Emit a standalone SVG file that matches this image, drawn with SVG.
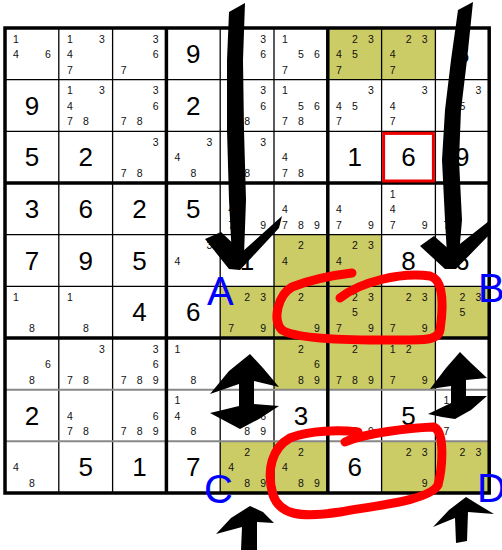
<svg xmlns="http://www.w3.org/2000/svg" width="502" height="550" viewBox="0 0 502 550">
<style>
.c{font-family:"Liberation Sans",Arial,sans-serif;font-size:10.5px;fill:#111;text-anchor:middle}
.g{font-family:"Liberation Sans",Arial,sans-serif;font-size:26px;fill:#000;text-anchor:middle}
.sh{fill:#cccc66}
.thin{stroke:#000;stroke-width:1.3}
.gray{stroke:#888;stroke-width:2}
.thick{stroke:#000;stroke-width:3.5}
.loop{fill:none;stroke:#ff0000;stroke-width:9;stroke-linecap:round;stroke-linejoin:round}
.arr{fill:#000}
.lab{font-family:"Liberation Sans",Arial,sans-serif;font-size:40px;fill:#0000ff}
</style>
<rect width="502" height="550" fill="#fff"/>
<g id="shading">
<rect class="sh" x="327.8" y="28" width="53.8" height="51.7"/>
<rect class="sh" x="381.6" y="28" width="53.8" height="51.7"/>
<rect class="sh" x="274" y="234.7" width="53.8" height="51.6"/>
<rect class="sh" x="327.8" y="234.7" width="53.8" height="51.6"/>
<rect class="sh" x="220.2" y="286.3" width="269" height="51.7"/>
<rect class="sh" x="274" y="338" width="161.4" height="51.7"/>
<rect class="sh" x="220.2" y="441.3" width="107.6" height="51.7"/>
<rect class="sh" x="381.6" y="441.3" width="107.6" height="51.7"/>
</g>
<g id="grid">
<line class="thin" x1="58.8" y1="28" x2="58.8" y2="493"/>
<line class="thin" x1="112.6" y1="28" x2="112.6" y2="493"/>
<line class="thin" x1="220.2" y1="28" x2="220.2" y2="493"/>
<line class="thin" x1="274" y1="28" x2="274" y2="493"/>
<line class="thin" x1="381.6" y1="28" x2="381.6" y2="493"/>
<line class="thin" x1="435.4" y1="28" x2="435.4" y2="493"/>
<line class="thin" x1="5" y1="79.7" x2="489.2" y2="79.7"/>
<line class="thin" x1="5" y1="131.3" x2="489.2" y2="131.3"/>
<line class="thin" x1="5" y1="234.7" x2="489.2" y2="234.7"/>
<line class="thin" x1="5" y1="286.3" x2="489.2" y2="286.3"/>
<line class="gray" x1="5" y1="389.7" x2="489.2" y2="389.7"/>
<line class="gray" x1="5" y1="441.3" x2="489.2" y2="441.3"/>
<line class="thick" x1="166.4" y1="28" x2="166.4" y2="493"/>
<line class="thick" x1="327.8" y1="28" x2="327.8" y2="493"/>
<line class="thick" x1="5" y1="183" x2="489.2" y2="183"/>
<line class="thick" x1="5" y1="338" x2="489.2" y2="338"/>
<rect x="5" y="28" width="484.2" height="465" fill="none" stroke="#000" stroke-width="3.5"/>
<rect x="383.6" y="133.4" width="49.8" height="47.6" fill="none" stroke="#e00" stroke-width="3"/>
</g>
<g id="r0">
<g id="r0c0"><text class="c" x="16" y="42.5">1</text><text class="c" x="16" y="58">4</text><text class="c" x="48" y="58">6</text></g>
<g id="r0c1"><text class="c" x="69.8" y="42.5">1</text><text class="c" x="101.8" y="42.5">3</text><text class="c" x="69.8" y="58">4</text><text class="c" x="69.8" y="73.5">7</text></g>
<g id="r0c2"><text class="c" x="155.6" y="42.5">3</text><text class="c" x="155.6" y="58">6</text><text class="c" x="123.6" y="73.5">7</text></g>
<g id="r0c3"><text class="g" x="193.3" y="63">9</text></g>
<g id="r0c4"><text class="c" x="263.2" y="42.5">3</text><text class="c" x="263.2" y="58">6</text><text class="c" x="231.2" y="73.5">7</text></g>
<g id="r0c5"><text class="c" x="285" y="42.5">1</text><text class="c" x="301" y="58">5</text><text class="c" x="317" y="58">6</text><text class="c" x="285" y="73.5">7</text></g>
<g id="r0c6"><text class="c" x="354.8" y="42.5">2</text><text class="c" x="370.8" y="42.5">3</text><text class="c" x="338.8" y="58">4</text><text class="c" x="354.8" y="58">5</text><text class="c" x="338.8" y="73.5">7</text></g>
<g id="r0c7"><text class="c" x="408.6" y="42.5">2</text><text class="c" x="424.6" y="42.5">3</text><text class="c" x="392.6" y="58">4</text><text class="c" x="392.6" y="73.5">7</text></g>
<g id="r0c8"><text class="g" x="462.3" y="63">8</text></g>
</g>
<g id="r1">
<g id="r1c0"><text class="g" x="31.9" y="114.7">9</text></g>
<g id="r1c1"><text class="c" x="69.8" y="94.2">1</text><text class="c" x="101.8" y="94.2">3</text><text class="c" x="69.8" y="109.7">4</text><text class="c" x="69.8" y="125.2">7</text><text class="c" x="85.8" y="125.2">8</text></g>
<g id="r1c2"><text class="c" x="155.6" y="94.2">3</text><text class="c" x="155.6" y="109.7">6</text><text class="c" x="123.6" y="125.2">7</text><text class="c" x="139.6" y="125.2">8</text></g>
<g id="r1c3"><text class="g" x="193.3" y="114.7">2</text></g>
<g id="r1c4"><text class="c" x="263.2" y="94.2">3</text><text class="c" x="263.2" y="109.7">6</text><text class="c" x="231.2" y="125.2">7</text><text class="c" x="247.2" y="125.2">8</text></g>
<g id="r1c5"><text class="c" x="285" y="94.2">1</text><text class="c" x="301" y="109.7">5</text><text class="c" x="317" y="109.7">6</text><text class="c" x="285" y="125.2">7</text><text class="c" x="301" y="125.2">8</text></g>
<g id="r1c6"><text class="c" x="370.8" y="94.2">3</text><text class="c" x="338.8" y="109.7">4</text><text class="c" x="354.8" y="109.7">5</text><text class="c" x="338.8" y="125.2">7</text></g>
<g id="r1c7"><text class="c" x="424.6" y="94.2">3</text><text class="c" x="392.6" y="109.7">4</text><text class="c" x="392.6" y="125.2">7</text></g>
<g id="r1c8"><text class="c" x="478.4" y="94.2">3</text><text class="c" x="462.4" y="109.7">5</text></g>
</g>
<g id="r2">
<g id="r2c0"><text class="g" x="31.9" y="166.3">5</text></g>
<g id="r2c1"><text class="g" x="85.7" y="166.3">2</text></g>
<g id="r2c2"><text class="c" x="155.6" y="145.8">3</text><text class="c" x="123.6" y="176.8">7</text><text class="c" x="139.6" y="176.8">8</text></g>
<g id="r2c3"><text class="c" x="209.4" y="145.8">3</text><text class="c" x="177.4" y="161.3">4</text><text class="c" x="193.4" y="176.8">8</text></g>
<g id="r2c4"><text class="c" x="263.2" y="145.8">3</text><text class="c" x="231.2" y="161.3">4</text><text class="c" x="231.2" y="176.8">7</text><text class="c" x="247.2" y="176.8">8</text></g>
<g id="r2c5"><text class="c" x="285" y="161.3">4</text><text class="c" x="285" y="176.8">7</text><text class="c" x="301" y="176.8">8</text></g>
<g id="r2c6"><text class="g" x="354.7" y="166.3">1</text></g>
<g id="r2c7"><text class="g" x="408.5" y="166.3">6</text></g>
<g id="r2c8"><text class="g" x="462.3" y="166.3">9</text></g>
</g>
<g id="r3">
<g id="r3c0"><text class="g" x="31.9" y="218">3</text></g>
<g id="r3c1"><text class="g" x="85.7" y="218">6</text></g>
<g id="r3c2"><text class="g" x="139.5" y="218">2</text></g>
<g id="r3c3"><text class="g" x="193.3" y="218">5</text></g>
<g id="r3c4"><text class="c" x="231.2" y="213">4</text><text class="c" x="231.2" y="228.5">7</text><text class="c" x="263.2" y="228.5">9</text></g>
<g id="r3c5"><text class="c" x="285" y="213">4</text><text class="c" x="285" y="228.5">7</text><text class="c" x="301" y="228.5">8</text><text class="c" x="317" y="228.5">9</text></g>
<g id="r3c6"><text class="c" x="338.8" y="213">4</text><text class="c" x="338.8" y="228.5">7</text><text class="c" x="370.8" y="228.5">9</text></g>
<g id="r3c7"><text class="c" x="392.6" y="197.5">1</text><text class="c" x="392.6" y="213">4</text><text class="c" x="392.6" y="228.5">7</text><text class="c" x="424.6" y="228.5">9</text></g>
<g id="r3c8"><text class="c" x="446.4" y="197.5">1</text><text class="c" x="446.4" y="228.5">7</text></g>
</g>
<g id="r4">
<g id="r4c0"><text class="g" x="31.9" y="269.7">7</text></g>
<g id="r4c1"><text class="g" x="85.7" y="269.7">9</text></g>
<g id="r4c2"><text class="g" x="139.5" y="269.7">5</text></g>
<g id="r4c3"><text class="c" x="209.4" y="249.2">3</text><text class="c" x="177.4" y="264.7">4</text></g>
<g id="r4c4"><text class="g" x="247.1" y="269.7">1</text></g>
<g id="r4c5"><text class="c" x="301" y="249.2">2</text><text class="c" x="285" y="264.7">4</text></g>
<g id="r4c6"><text class="c" x="354.8" y="249.2">2</text><text class="c" x="370.8" y="249.2">3</text><text class="c" x="338.8" y="264.7">4</text></g>
<g id="r4c7"><text class="g" x="408.5" y="269.7">8</text></g>
<g id="r4c8"><text class="g" x="462.3" y="269.7">6</text></g>
</g>
<g id="r5">
<g id="r5c0"><text class="c" x="16" y="300.8">1</text><text class="c" x="32" y="331.8">8</text></g>
<g id="r5c1"><text class="c" x="69.8" y="300.8">1</text><text class="c" x="85.8" y="331.8">8</text></g>
<g id="r5c2"><text class="g" x="139.5" y="321.3">4</text></g>
<g id="r5c3"><text class="g" x="193.3" y="321.3">6</text></g>
<g id="r5c4"><text class="c" x="247.2" y="300.8">2</text><text class="c" x="263.2" y="300.8">3</text><text class="c" x="231.2" y="331.8">7</text><text class="c" x="263.2" y="331.8">9</text></g>
<g id="r5c5"><text class="c" x="301" y="300.8">2</text><text class="c" x="317" y="331.8">9</text></g>
<g id="r5c6"><text class="c" x="354.8" y="300.8">2</text><text class="c" x="370.8" y="300.8">3</text><text class="c" x="354.8" y="316.3">5</text><text class="c" x="338.8" y="331.8">7</text><text class="c" x="370.8" y="331.8">9</text></g>
<g id="r5c7"><text class="c" x="408.6" y="300.8">2</text><text class="c" x="424.6" y="300.8">3</text><text class="c" x="392.6" y="331.8">7</text><text class="c" x="424.6" y="331.8">9</text></g>
<g id="r5c8"><text class="c" x="462.4" y="300.8">2</text><text class="c" x="478.4" y="300.8">3</text><text class="c" x="462.4" y="316.3">5</text></g>
</g>
<g id="r6">
<g id="r6c0"><text class="c" x="48" y="368">6</text><text class="c" x="32" y="383.5">8</text></g>
<g id="r6c1"><text class="c" x="101.8" y="352.5">3</text><text class="c" x="69.8" y="383.5">7</text><text class="c" x="85.8" y="383.5">8</text></g>
<g id="r6c2"><text class="c" x="155.6" y="352.5">3</text><text class="c" x="155.6" y="368">6</text><text class="c" x="123.6" y="383.5">7</text><text class="c" x="139.6" y="383.5">8</text><text class="c" x="155.6" y="383.5">9</text></g>
<g id="r6c3"><text class="c" x="177.4" y="352.5">1</text><text class="c" x="193.4" y="383.5">8</text></g>
<g id="r6c5"><text class="c" x="301" y="352.5">2</text><text class="c" x="317" y="368">6</text><text class="c" x="301" y="383.5">8</text><text class="c" x="317" y="383.5">9</text></g>
<g id="r6c6"><text class="c" x="354.8" y="352.5">2</text><text class="c" x="338.8" y="383.5">7</text><text class="c" x="354.8" y="383.5">8</text><text class="c" x="370.8" y="383.5">9</text></g>
<g id="r6c7"><text class="c" x="392.6" y="352.5">1</text><text class="c" x="408.6" y="352.5">2</text><text class="c" x="392.6" y="383.5">7</text><text class="c" x="424.6" y="383.5">9</text></g>
</g>
<g id="r7">
<g id="r7c0"><text class="g" x="31.9" y="424.7">2</text></g>
<g id="r7c1"><text class="c" x="69.8" y="419.7">4</text><text class="c" x="69.8" y="435.2">7</text><text class="c" x="85.8" y="435.2">8</text></g>
<g id="r7c2"><text class="c" x="155.6" y="419.7">6</text><text class="c" x="123.6" y="435.2">7</text><text class="c" x="139.6" y="435.2">8</text><text class="c" x="155.6" y="435.2">9</text></g>
<g id="r7c3"><text class="c" x="177.4" y="404.2">1</text><text class="c" x="177.4" y="419.7">4</text><text class="c" x="193.4" y="435.2">8</text></g>
<g id="r7c4"><text class="c" x="263.2" y="419.7">6</text><text class="c" x="247.2" y="435.2">8</text><text class="c" x="263.2" y="435.2">9</text></g>
<g id="r7c5"><text class="g" x="300.9" y="424.7">3</text></g>
<g id="r7c6"><text class="c" x="338.8" y="435.2">7</text><text class="c" x="354.8" y="435.2">8</text><text class="c" x="370.8" y="435.2">9</text></g>
<g id="r7c7"><text class="g" x="408.5" y="424.7">5</text></g>
<g id="r7c8"><text class="c" x="446.4" y="404.2">1</text><text class="c" x="446.4" y="435.2">7</text></g>
</g>
<g id="r8">
<g id="r8c0"><text class="c" x="16" y="471.3">4</text><text class="c" x="32" y="486.8">8</text></g>
<g id="r8c1"><text class="g" x="85.7" y="476.3">5</text></g>
<g id="r8c2"><text class="g" x="139.5" y="476.3">1</text></g>
<g id="r8c3"><text class="g" x="193.3" y="476.3">7</text></g>
<g id="r8c4"><text class="c" x="247.2" y="455.8">2</text><text class="c" x="231.2" y="471.3">4</text><text class="c" x="247.2" y="486.8">8</text><text class="c" x="263.2" y="486.8">9</text></g>
<g id="r8c5"><text class="c" x="301" y="455.8">2</text><text class="c" x="285" y="471.3">4</text><text class="c" x="301" y="486.8">8</text><text class="c" x="317" y="486.8">9</text></g>
<g id="r8c6"><text class="g" x="354.7" y="476.3">6</text></g>
<g id="r8c7"><text class="c" x="408.6" y="455.8">2</text><text class="c" x="424.6" y="455.8">3</text><text class="c" x="424.6" y="486.8">9</text></g>
<g id="r8c8"><text class="c" x="462.4" y="455.8">2</text><text class="c" x="478.4" y="455.8">3</text></g>
</g>
<g id="connectors">
<polygon class="arr" points="229,12 245,3 243,60 244,130 246,200 244,255 232,258 229,200 227,130 227,60"/>
<polygon class="arr" points="205,239 221,232 242,252 282,216 279,228 240,270 229,269"/>
<polygon class="arr" points="458,10 473,2 467,60 461,110 459,160 462,220 459,255 447,255 445,220 442,160 445,110 451,60"/>
<polygon class="arr" points="420,246 434,236 451,251 489,221 491,233 456,269 445,269"/>
<polygon class="arr" points="250,354 263,368 279,387 254,381 254,404 279,406 259,419 240,429 225,421 210,413 239,406 239,384 210,394 229,371"/>
<polygon class="arr" points="460,352 471,363 487,378 466,380 466,396 487,396 471,410 455,419 442,417 428,414 451,403 451,386 430,389 446,368"/>
<polygon class="arr" points="250,506 263,512 274,523 257,522 257,550 241,550 242,527 216,534 231,518"/>
<polygon class="arr" points="466,497 479,505 494,514 468,512 467,541 456,543 455,518 433,527 449,510"/>
<path class="loop" d="M340,298 C360,282 400,272 430,276 C445,280 443,310 440,330 C438,342 420,340 380,340 C340,340 295,338 282,330 C272,320 278,295 292,287 C310,280 335,275 352,273"/>
<path class="loop" stroke-width="10" d="M345,442 C365,433 410,428 433,427 C446,430 442,470 438,485 C430,500 380,505 340,512 C300,518 280,515 273,495 C266,470 272,448 290,438 C310,430 340,430 358,432"/>
</g>
<g id="labels">
<text class="lab" x="207" y="305">A</text>
<text class="lab" x="478" y="302">B</text>
<text class="lab" x="204" y="503">C</text>
<text class="lab" x="477" y="502">D</text>
</g>
</svg>
